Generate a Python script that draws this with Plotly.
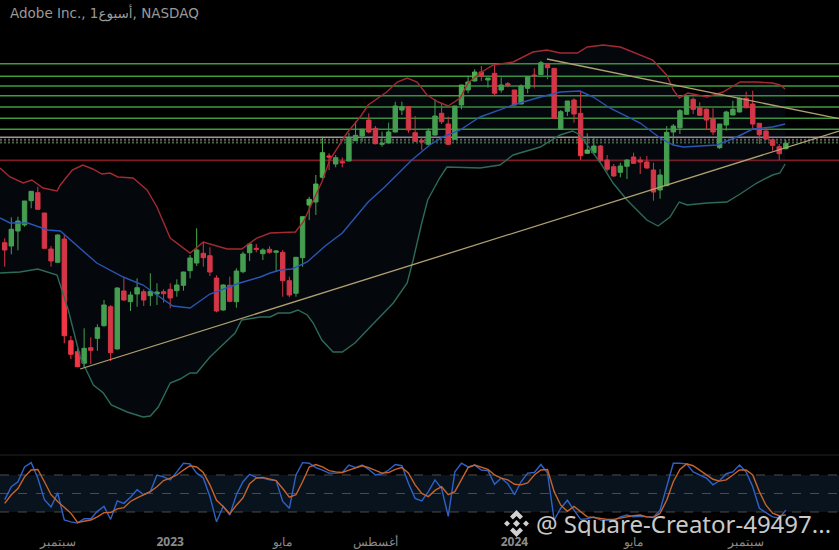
import plotly.graph_objects as go
from plotly.subplots import make_subplots

# weekly bars, x axis is just the bar number
weeks = list(range(119))

opens = [457.3, 454, 469, 475, 499.3, 507.3, 487, 451, 437.7, 461,
         359.3, 348.3, 336.7, 352.3, 361.7, 374.3, 393.3, 351, 409, 398.3,
         406, 408.3, 404.3, 406, 408.3, 410.7, 409.3, 414.7, 429.3, 437,
         446.7, 444.3, 422, 390, 414.7, 398.3, 428.3, 447.3, 451.7, 446.3,
         450.7, 447.7, 447.7, 419.3, 406.7, 442.3, 495, 498, 522.7, 544,
         536, 538.3, 539, 559.3, 564, 580, 571.7, 555.7, 557, 568,
         590, 593.3, 567.3, 559.3, 555.7, 565, 586.7, 576, 560.7, 595,
         610, 619, 628, 620, 626.7, 610, 616.3, 610, 596, 611.7,
         625, 625.3, 635.7, 631.7, 570.7, 588.7, 600, 586.7, 546.7, 547.3,
         554, 540, 533.3, 527.7, 533.7, 543, 540, 538, 530, 510,
         514.3, 568, 572.3, 585.7, 600.7, 592.3, 590.7, 581, 552.3, 575,
         585, 588, 601.7, 596, 576.7, 569, 560.3, 553.3, 551.3]
closes = [450, 470.7, 479, 499, 508.7, 490.7, 451.7, 439, 465, 364.3,
          345.7, 333.3, 351.7, 349.7, 372.3, 395, 347.3, 412, 400, 405,
          412.3, 400, 408.7, 408, 406.3, 402, 415, 428, 442, 450,
          442.3, 428, 389, 415, 398.7, 429, 446, 456, 450.7, 450,
          447.7, 449, 419.3, 405, 442.7, 483.3, 500.7, 516, 547.3, 543,
          542.3, 537.3, 561.7, 564.7, 570.7, 568, 556.3, 556.7, 568, 594,
          593.3, 570, 558.7, 558, 569, 584, 578.3, 555.7, 594, 615,
          618, 628, 623.7, 622, 606.7, 615, 614.3, 595, 614, 623.3,
          624.3, 637.3, 632.3, 581.7, 588.3, 599, 586, 544.3, 550, 554,
          539.3, 530.7, 524, 534, 540, 536.7, 538, 532, 508, 525,
          567.7, 574, 589.3, 603.3, 590.7, 584.7, 580, 568, 576, 588,
          590.7, 601.7, 592.3, 576, 565.3, 561, 554.7, 546.3, 556.7]
highs = [461.7, 482.7, 483.3, 499, 508.7, 513.3, 487, 454, 465.7, 465,
         364, 351.7, 371.7, 362.7, 375.7, 400, 395, 412.7, 421.7, 408.3,
         421.7, 410.7, 426.7, 416.7, 410.7, 416.7, 420.7, 428.3, 445, 471.7,
         458.3, 452.7, 424.7, 415.7, 423.3, 431.7, 448.3, 456.7, 456, 451.7,
         453.7, 450, 450, 423.3, 442.7, 483.3, 503.3, 525, 563.3, 546.7,
         545, 542.3, 567.3, 578.3, 571.3, 586.7, 574, 568.3, 577.3, 598.3,
         598.3, 593.3, 584, 562.7, 571.7, 600.7, 596.7, 583.3, 594, 615,
         624, 630.7, 634, 622, 635, 622.7, 618, 610, 615.7, 623.3,
         631.7, 639.3, 636.7, 631.7, 590, 599, 601.7, 608.3, 566.7, 563.3,
         555, 545, 536, 537.3, 540.7, 547.3, 543.3, 544, 537.3, 530.7,
         574, 576, 591, 604, 602.7, 597.7, 591.7, 591.7, 576, 589.3,
         599.3, 602.7, 608.3, 609.3, 576.7, 572.3, 561.3, 556, 560]
lows = [433.3, 445.7, 449.7, 473.3, 491.7, 490.7, 451.7, 433.3, 437.3, 356.7,
        341, 332.7, 332.7, 336, 349.3, 373.3, 339, 350.7, 399.3, 389,
        393.3, 394, 394, 395, 397.3, 391.7, 403.3, 409.3, 421.7, 434,
        433.3, 424, 387.7, 389.3, 397.7, 392.3, 426.7, 439, 447.7, 440,
        446.3, 428, 403.3, 402.7, 403.3, 433.3, 480, 485, 520, 530,
        532.7, 532.7, 539, 559, 558.3, 566.7, 555.7, 553.3, 556.7, 567.7,
        585, 567.3, 558.7, 550, 555, 564.3, 576, 555, 560.7, 590.7,
        606.7, 618.3, 619, 612.3, 604, 607.3, 612.7, 594, 596, 606.7,
        611.7, 625, 620.7, 581.7, 570, 584, 577.3, 540, 546.7, 546.7,
        538.3, 528.3, 523.3, 522.7, 521, 536, 526, 531.3, 499.3, 501.3,
        514.3, 554.7, 566, 585, 586, 584, 570.7, 565, 551, 569.3,
        585, 587.7, 591.7, 570, 556, 560, 549.3, 540, 550.7]

upper_x = [-0.7, 0.8, 2.8, 4.1, 5.8, 7.9, 8.4, 10.2, 11.8, 13.3,
           14.7, 15.9, 17.1, 19.4, 21.5, 23, 25, 28, 30, 33.6,
           35.8, 38.1, 40.1, 43.9, 45.1, 47.9, 49.1, 51.7, 53.7, 54.9,
           57.7, 59.3, 60.8, 62.3, 63.8, 65.5, 67, 68.8, 70, 71.8,
           73.8, 76.8, 79.8, 81.9, 83.9, 86.5, 88, 90.4, 93, 96,
           97.9, 100, 101, 101.9, 103.2, 106.1, 108.5, 111.1, 113.6, 116,
           117.1, 117.9]
upper_y = [532, 523, 517, 520, 512, 509, 515, 530, 535, 531,
           526, 527, 523, 522, 510, 493, 462, 447, 458, 451,
           451, 462, 467, 468, 478, 518, 540, 567, 583, 595,
           608, 618, 622, 618, 605, 598, 594, 602, 617, 627,
           635, 638, 648, 650, 647, 647, 653, 655, 653, 645,
           640, 625, 610, 602, 607, 603, 608, 618, 618, 617,
           615, 611]
lower_x = [-0.7, 2.3, 5, 7.9, 9.6, 11.4, 12.1, 13.4, 14.9, 16.1,
           18.5, 20.9, 22, 23.2, 25, 26.5, 28, 29, 31, 32.1,
           34.8, 35.8, 38.6, 40.1, 41.3, 43.1, 44.3, 45.7, 46.6, 47.9,
           49.6, 51, 52.9, 55.2, 58.7, 60.8, 61.7, 63, 63.9, 65.7,
           66.8, 71.8, 74.8, 76.8, 80.9, 83.9, 85.8, 86.9, 90, 91.9,
           94, 97, 98.7, 100.5, 101.9, 103.1, 106.1, 109.1, 111.1, 113.6,
           116, 117.1, 117.9]
lower_y = [427, 428, 431, 425, 390, 343, 333, 315, 307, 295,
           288, 283, 284, 293, 317, 321, 327, 327, 343, 350,
           367, 380, 383, 383, 387, 387, 390, 385, 377, 360,
           348, 348, 357, 373, 397, 417, 440, 477, 500, 522,
           533, 532, 535, 545, 553, 565, 569, 565, 537, 517,
           500, 480, 474, 483, 498, 495, 497, 498, 506, 517,
           525, 527, 536]
basis_x = [-0.7, 0.8, 3.5, 6.5, 8.4, 10.3, 13.9, 17.9, 20.9, 23,
           25.4, 28, 31, 35.5, 38.6, 40.1, 41.6, 43.4, 45.7, 48.4,
           51, 54.9, 57.4, 61.5, 64.2, 66.2, 68.8, 71.8, 76.8, 80.4,
           83.9, 86.9, 88.9, 91.4, 96, 99, 101, 102.5, 107.6, 110.6,
           113, 116, 117.9]
basis_y = [482, 477, 477, 470, 469, 458, 437, 423, 415, 405,
           394, 392, 406, 417, 423, 427, 430, 431, 438, 454,
           467, 498, 513, 540, 555, 563, 570, 583, 595, 602,
           608, 609, 603, 592, 577, 562, 555, 553, 555, 563,
           571, 573, 576]

# horizontal levels drawn on the chart
green_levels = [636.3, 623.7, 614, 604.3, 593, 581.7, 570.7]
grey_level = 562.7
dotted_levels = [560.2, 557.4]
red_level = 539.7

# trendlines
trend_up_x = [11.4, 126.03]
trend_up_y = [331, 569]
trend_down_x = [81.9, 126.03]
trend_down_y = [641, 581.3]

# stochastic rsi
stoch_k = [40, 61, 69, 93, 100, 75, 40, 28, 51, 7,
           4, 2, 9, 9, 21, 29, 8, 38, 34, 44,
           56, 48, 53, 80, 77, 72, 85, 99, 98, 83,
           75, 45, 4, 29, 15, 48, 69, 81, 76, 75,
           72, 71, 37, 26, 80, 100, 99, 92, 88, 83,
           83, 84, 96, 92, 96, 89, 80, 82, 88, 97,
           95, 66, 42, 38, 53, 72, 58, 13, 85, 99,
           93, 96, 88, 87, 65, 75, 66, 48, 69, 83,
           84, 97, 83, 7, 26, 39, 23, 8, 9, 12,
           7, 6, 6, 12, 15, 12, 13, 12, 12, 23,
           61, 99, 99, 98, 85, 80, 75, 64, 71, 82,
           85, 96, 85, 61, 26, 19, 12, 10, 23]
stoch_d = [34, 48, 58, 77, 88, 89, 69, 48, 37, 28,
           18, 3, 5, 7, 12, 19, 19, 25, 27, 37,
           43, 48, 53, 61, 71, 75, 80, 88, 95, 93,
           84, 64, 39, 29, 17, 31, 43, 66, 75, 76,
           73, 71, 58, 44, 48, 69, 93, 97, 93, 87,
           85, 84, 88, 91, 95, 92, 88, 83, 84, 89,
           92, 83, 64, 50, 45, 55, 61, 48, 53, 72,
           92, 96, 92, 89, 80, 75, 72, 65, 64, 67,
           80, 88, 89, 53, 31, 21, 29, 21, 12, 11,
           9, 8, 8, 10, 13, 14, 15, 12, 11, 18,
           39, 69, 89, 98, 95, 88, 80, 73, 70, 72,
           80, 88, 88, 80, 53, 31, 18, 14, 15]
stoch_levels = [80, 50, 20]

tick_weeks = [8, 25, 42, 56, 77, 95, 112]
tick_labels = ['سبتمبر', '<b>2023</b>', 'مايو', 'أغسطس', '<b>2024</b>', 'مايو', 'سبتمبر']

W, H = 839, 550
PLOT_H = 528
split = 73 / PLOT_H


def px_x(x):
    return x / W


def px_y(y):
    return (PLOT_H - y) / PLOT_H


def logo_path(points):
    # logo pieces are given in screen pixels, shapes want paper coords
    parts = [f'{px_x(x):.5f},{px_y(y):.5f}' for x, y in points]
    return 'M' + ' L'.join(parts) + ' Z'


fig = make_subplots(rows=2, cols=1, shared_xaxes=True)

fig.add_trace(go.Scatter(x=upper_x + lower_x[::-1], y=upper_y + lower_y[::-1],
                         fill='toself', fillcolor='rgba(25,55,85,0.14)',
                         mode='none', hoverinfo='skip'), row=1, col=1)
fig.add_trace(go.Scatter(x=upper_x, y=upper_y, mode='lines',
                         line=dict(color='#a32a33', width=1.4)), row=1, col=1)
fig.add_trace(go.Scatter(x=lower_x, y=lower_y, mode='lines',
                         line=dict(color='#2d6b58', width=1.4)), row=1, col=1)
fig.add_trace(go.Scatter(x=basis_x, y=basis_y, mode='lines',
                         line=dict(color='#2a55b5', width=1.4)), row=1, col=1)

fig.add_trace(go.Candlestick(x=weeks, open=opens, high=highs, low=lows, close=closes,
                             whiskerwidth=0,
                             increasing=dict(line=dict(color='#4caf50', width=1),
                                             fillcolor='#4caf50'),
                             decreasing=dict(line=dict(color='#f23645', width=1),
                                             fillcolor='#f23645')), row=1, col=1)

fig.add_trace(go.Scatter(x=trend_up_x, y=trend_up_y, mode='lines',
                         line=dict(color='#b0a070', width=1.3)), row=1, col=1)
fig.add_trace(go.Scatter(x=trend_down_x, y=trend_down_y, mode='lines',
                         line=dict(color='#b0a070', width=1.3)), row=1, col=1)

fig.add_trace(go.Scatter(x=weeks, y=stoch_k, mode='lines',
                         line=dict(color='#2f62c9', width=1.4)), row=2, col=1)
fig.add_trace(go.Scatter(x=weeks, y=stoch_d, mode='lines',
                         line=dict(color='#c8642a', width=1.4)), row=2, col=1)

for level in green_levels:
    fig.add_hline(y=level, line=dict(color='#3f9c3a', width=1.5), layer='below', row=1, col=1)
fig.add_hline(y=grey_level, line=dict(color='#9a9a9a', width=1.6), layer='below', row=1, col=1)
fig.add_hline(y=dotted_levels[0], line=dict(color='#6e5a55', width=2, dash='2px,2px'),
              layer='below', row=1, col=1)
fig.add_hline(y=dotted_levels[1], line=dict(color='#3d6b40', width=2, dash='2px,2px'),
              layer='below', row=1, col=1)
fig.add_hline(y=red_level, line=dict(color='#7f1d24', width=1.8), layer='below', row=1, col=1)

fig.add_hrect(y0=stoch_levels[2], y1=stoch_levels[0], fillcolor='#08131e', line_width=0,
              layer='below', row=2, col=1)
for level in stoch_levels:
    fig.add_hline(y=level, line=dict(color='#4d4d4d', width=1, dash='dash'), layer='below', row=2, col=1)

# separator above the lower pane
fig.add_shape(type='line', xref='paper', yref='paper', x0=0, x1=1, y0=split, y1=split,
              line=dict(color='#222222', width=1))

# binance style logo of the watermark
logo = [[(516.5, 510), (523, 516.5), (520, 519.5), (516.5, 516), (513, 519.5), (510, 516.5)],
        [(516.5, 537), (510, 530.5), (513, 527.5), (516.5, 531), (520, 527.5), (523, 530.5)],
        [(516.5, 520), (520, 523.5), (516.5, 527), (513, 523.5)],
        [(507, 520.5), (510, 523.5), (507, 526.5), (504, 523.5)],
        [(526, 520.5), (529, 523.5), (526, 526.5), (523, 523.5)]]
for piece in logo:
    fig.add_shape(type='path', xref='paper', yref='paper', path=logo_path(piece),
                  fillcolor='#d0d0d0', line_width=0)

fig.add_annotation(text='@ Square-Creator-49497...', xref='paper', yref='paper',
                   x=px_x(534), y=px_y(523), xanchor='left', yanchor='middle', showarrow=False,
                   height=26, font=dict(family='Noto Sans', size=24, color='#c9c9c9'))
fig.add_annotation(text='Adobe Inc., 1أسبوع, NASDAQ', xref='paper', yref='paper',
                   x=px_x(8), y=px_y(12.5), xanchor='left', yanchor='middle', showarrow=False,
                   font=dict(family='DejaVu Sans', size=13.5, color='#9a9a9a'))

fig.update_layout(width=W, height=H, margin=dict(l=0, r=0, t=0, b=H - PLOT_H),
                  paper_bgcolor='#000000', plot_bgcolor='#000000',
                  showlegend=False, boxgap=0.05, hovermode=False,
                  font=dict(family='Noto Sans', color='#8c8c8c'))
fig.update_xaxes(range=[-0.71, 126.03], showgrid=False, zeroline=False, showline=False,
                 rangeslider_visible=False, ticks='')
fig.update_xaxes(tickmode='array', tickvals=tick_weeks, ticktext=tick_labels,
                 ticklabelstandoff=5, tickfont=dict(size=12, color='#8c8c8c'), row=2, col=1)
fig.update_yaxes(showgrid=False, zeroline=False, showline=False, showticklabels=False, ticks='')
fig.update_yaxes(range=[245, 700], domain=[split, 1], row=1, col=1)
fig.update_yaxes(range=[-6, 112.4], domain=[0, split], row=2, col=1)

# the page's default body margin would shift the whole picture
fig.write_html("out.html", config=dict(displayModeBar=False),
               post_script="document.body.style.margin='0';document.body.style.background='#000';")
